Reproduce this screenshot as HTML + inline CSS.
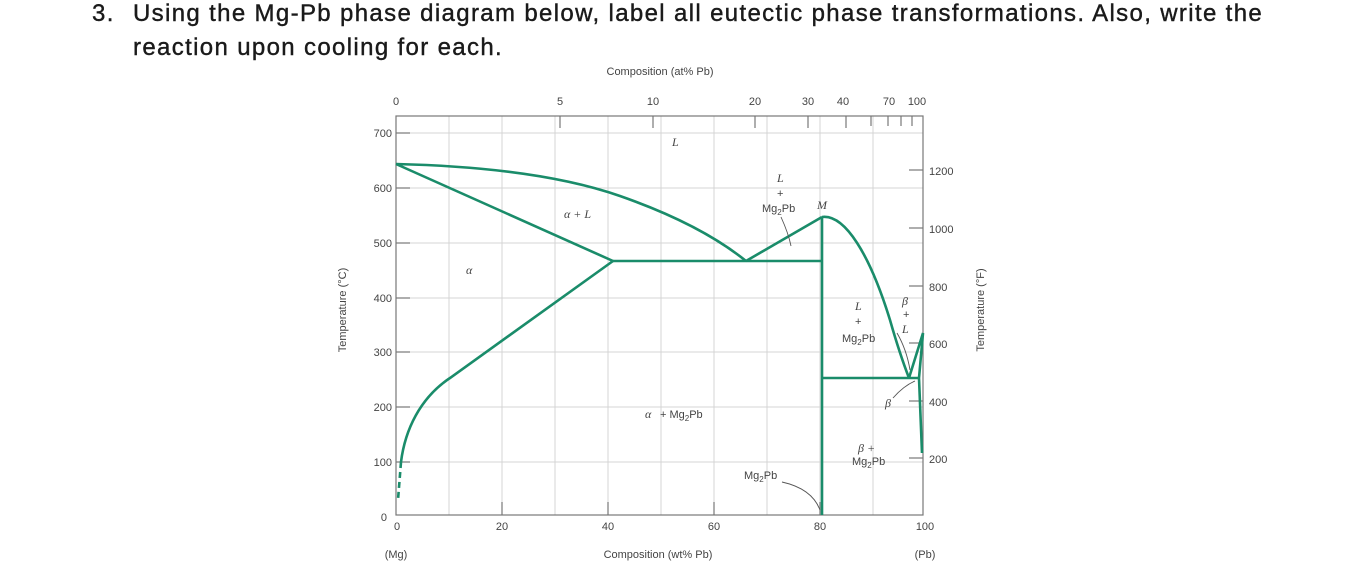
<!DOCTYPE html>
<html><head><meta charset="utf-8"><style>
body{margin:0;background:#fff;width:1352px;height:584px;overflow:hidden;font-family:"Liberation Sans",sans-serif;}
.q{position:absolute;font-family:"Liberation Sans",sans-serif;font-size:24px;font-weight:normal;letter-spacing:1.35px;color:#1a1a1a;white-space:nowrap;-webkit-text-stroke:0.4px #1a1a1a;}
</style></head><body>
<div class="q" style="left:92px;top:0px;">3.</div>
<div class="q" style="left:133px;top:0px;">Using the Mg-Pb phase diagram below, label all eutectic phase transformations. Also, write the</div>
<div class="q" style="left:133px;top:34px;">reaction upon cooling for each.</div>
<svg width="1352" height="584" style="position:absolute;left:0;top:0" font-family="Liberation Sans, sans-serif" font-size="11" fill="#444">
<g stroke="#d4d4d4" stroke-width="1">
<line x1="449" y1="116" x2="449" y2="515"/><line x1="502" y1="116" x2="502" y2="515"/><line x1="555" y1="116" x2="555" y2="515"/><line x1="608" y1="116" x2="608" y2="515"/><line x1="661" y1="116" x2="661" y2="515"/><line x1="714" y1="116" x2="714" y2="515"/><line x1="767" y1="116" x2="767" y2="515"/><line x1="820" y1="116" x2="820" y2="515"/><line x1="873" y1="116" x2="873" y2="515"/>
<line x1="396" y1="133" x2="923" y2="133"/><line x1="396" y1="188" x2="923" y2="188"/><line x1="396" y1="243" x2="923" y2="243"/><line x1="396" y1="298" x2="923" y2="298"/><line x1="396" y1="352" x2="923" y2="352"/><line x1="396" y1="407" x2="923" y2="407"/><line x1="396" y1="462" x2="923" y2="462"/>
</g>
<g stroke="#777" stroke-width="1.2" fill="none">
<rect x="396" y="116" width="527" height="399"/>
<line x1="396" y1="133" x2="410" y2="133"/><line x1="396" y1="188" x2="410" y2="188"/><line x1="396" y1="243" x2="410" y2="243"/><line x1="396" y1="298" x2="410" y2="298"/><line x1="396" y1="352" x2="410" y2="352"/><line x1="396" y1="407" x2="410" y2="407"/><line x1="396" y1="462" x2="410" y2="462"/>
<line x1="502" y1="515" x2="502" y2="502"/><line x1="608" y1="515" x2="608" y2="502"/><line x1="714" y1="515" x2="714" y2="502"/><line x1="820" y1="515" x2="820" y2="502"/>
<line x1="560" y1="116" x2="560" y2="128"/><line x1="653" y1="116" x2="653" y2="128"/><line x1="755" y1="116" x2="755" y2="128"/><line x1="808" y1="116" x2="808" y2="128"/><line x1="846" y1="116" x2="846" y2="128"/><line x1="871" y1="116" x2="871" y2="126"/><line x1="888" y1="116" x2="888" y2="126"/><line x1="901" y1="116" x2="901" y2="126"/><line x1="912" y1="116" x2="912" y2="126"/>
<line x1="909" y1="170" x2="923" y2="170"/><line x1="909" y1="228" x2="923" y2="228"/><line x1="909" y1="286" x2="923" y2="286"/><line x1="909" y1="343" x2="923" y2="343"/><line x1="909" y1="401" x2="923" y2="401"/><line x1="909" y1="458" x2="923" y2="458"/>
</g>
<g stroke="#1a8c6a" stroke-width="2.6" fill="none">
<path d="M396,164 C480,166 560,175 620,196 C680,217 720,240 746,261"/>
<path d="M396,164 L613,261"/>
<path d="M613,261 L450,378 C420,398 405,430 401,462"/>
<path d="M401,462 L398,500" stroke-dasharray="6,4"/>
<line x1="613" y1="261" x2="822" y2="261"/>
<path d="M746,261 L822,217"/>
<line x1="822" y1="217" x2="822" y2="515"/>
<path d="M822,217 C845,214 870,255 890,320 C898,348 904,365 909,378"/>
<line x1="822" y1="378" x2="919" y2="378"/>
<path d="M909,378 L923,333 L919,378 L922,453"/>
</g>
<g stroke="#555" stroke-width="0.9" fill="none">
<path d="M781,217 C786,228 789,236 791,246"/>
<path d="M782,482 C800,486 814,494 820,510"/>
<path d="M897,333 C904,345 908,358 910,370"/>
<path d="M893,398 C900,390 908,384 915,381"/>
</g>
<g font-size="11" fill="#444">
<text x="660" y="75" text-anchor="middle">Composition (at% Pb)</text>
<text x="396" y="105" text-anchor="middle">0</text><text x="560" y="105" text-anchor="middle">5</text><text x="653" y="105" text-anchor="middle">10</text><text x="755" y="105" text-anchor="middle">20</text><text x="808" y="105" text-anchor="middle">30</text><text x="843" y="105" text-anchor="middle">40</text><text x="889" y="105" text-anchor="middle">70</text><text x="917" y="105" text-anchor="middle">100</text>
<g text-anchor="end"><text x="392" y="137">700</text><text x="392" y="192">600</text><text x="392" y="247">500</text><text x="392" y="302">400</text><text x="392" y="356">300</text><text x="392" y="411">200</text><text x="392" y="466">100</text><text x="387" y="521">0</text></g>
<g><text x="929" y="175">1200</text><text x="929" y="233">1000</text><text x="929" y="291">800</text><text x="929" y="348">600</text><text x="929" y="406">400</text><text x="929" y="463">200</text></g>
<g text-anchor="middle"><text x="397" y="530">0</text><text x="502" y="530">20</text><text x="608" y="530">40</text><text x="714" y="530">60</text><text x="820" y="530">80</text><text x="925" y="530">100</text>
<text x="396" y="558">(Mg)</text><text x="658" y="558">Composition (wt% Pb)</text><text x="925" y="558">(Pb)</text></g>
<text transform="translate(346,310) rotate(-90)" text-anchor="middle">Temperature (°C)</text>
<text transform="translate(984,310) rotate(-90)" text-anchor="middle">Temperature (°F)</text>
<g font-family="Liberation Serif, serif" font-style="italic" font-size="12">
<text x="672" y="146">L</text><text x="777" y="182">L</text><text x="817" y="209">M</text>
<text x="564" y="218">α + L</text><text x="466" y="274">α</text>
<text x="855" y="310">L</text><text x="902" y="305">β</text><text x="902" y="333">L</text>
<text x="885" y="407">β</text><text x="858" y="452">β +</text><text x="645" y="418">α</text>
</g>
<g font-size="11">
<text x="777" y="197">+</text><text x="762" y="212">Mg<tspan font-size="8" dy="3">2</tspan><tspan dy="-3">Pb</tspan></text>
<text x="855" y="325">+</text><text x="842" y="342">Mg<tspan font-size="8" dy="3">2</tspan><tspan dy="-3">Pb</tspan></text>
<text x="903" y="318">+</text>
<text x="852" y="465">Mg<tspan font-size="8" dy="3">2</tspan><tspan dy="-3">Pb</tspan></text>
<text x="660" y="418">+ Mg<tspan font-size="8" dy="3">2</tspan><tspan dy="-3">Pb</tspan></text>
<text x="744" y="479">Mg<tspan font-size="8" dy="3">2</tspan><tspan dy="-3">Pb</tspan></text>
</g>
</g>
</svg>
</body></html>
